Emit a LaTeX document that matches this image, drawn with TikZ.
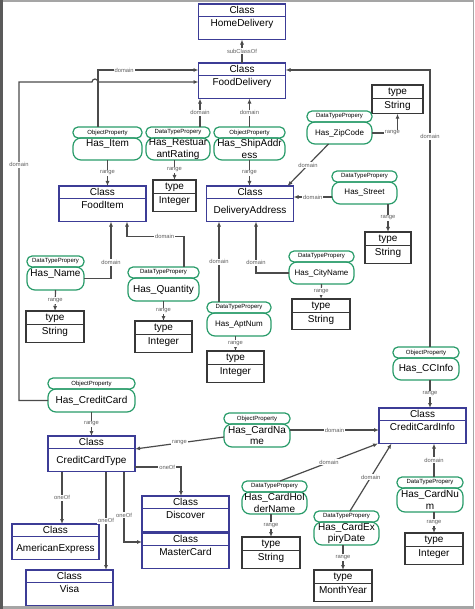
\documentclass[tikz,border=0pt]{standalone}
\usepackage{fontspec}
\setmainfont{Liberation Sans}
\usetikzlibrary{shapes.multipart,arrows.meta,positioning}
\definecolor{classblue}{RGB}{60,60,150}
\definecolor{propgreen}{RGB}{40,155,105}
\definecolor{typegray}{RGB}{55,55,55}
\definecolor{linegray}{RGB}{75,75,75}
\definecolor{lblgray}{RGB}{95,95,95}
\definecolor{framegray}{RGB}{165,165,165}
\definecolor{framedark}{RGB}{90,90,90}
% body part of a box: text near the top, or centred
\newcommand{\clstop}[1]{\rule[-10.4pt]{0pt}{18pt}#1}
\newcommand{\clsmid}[1]{\rule[-5.4pt]{0pt}{18pt}#1}
\newcommand{\typbody}[2][5.4pt]{\rule[-#1]{0pt}{\dimexpr7.6pt+#1\relax}#2}
\begin{document}
\begin{tikzpicture}[x=1pt,y=-1pt]
	\tikzstyle{cls}=[rectangle split,rectangle split parts=2,draw=classblue,line width=1.1pt,text width=87pt,inner xsep=0pt,inner ysep=2pt,align=center,anchor=north,outer sep=0pt,font=\fontsize{10}{11}\selectfont]
	\tikzstyle{typ}=[rectangle split,rectangle split parts=2,draw=typegray,line width=1.1pt,text width=58pt,inner xsep=0pt,inner ysep=2pt,align=center,anchor=north,outer sep=0pt,font=\fontsize{10}{11}\selectfont]
	\tikzstyle{prop}=[rectangle,rounded corners=8pt,draw=propgreen,line width=1.2pt,minimum height=22pt,inner sep=0pt,outer sep=0pt,align=center,font=\fontsize{10}{11.5}\selectfont]
	\tikzstyle{small}=[font=\fontsize{8}{9}\selectfont]
	\tikzstyle{kind}=[rectangle,rounded corners=5pt,draw=propgreen,line width=1.2pt,minimum height=11pt,inner sep=0pt,outer sep=0pt,font=\fontsize{6}{7}\selectfont]
	\tikzstyle{edge}=[-{Latex[length=5pt,width=4pt]},line width=1.2pt,draw=linegray]
	\tikzstyle{lbl}=[fill=white,inner sep=1pt,text=lblgray,font=\fontsize{5.8}{6}\selectfont]

	\useasboundingbox (0,0) rectangle (474,609);
	\fill[framegray] (0,0) rectangle (474,2);
	\fill[framegray] (0,606) rectangle (474,609);
	\fill[framedark] (0,0) rectangle (3,609);
	\draw[framegray,line width=1pt] (473,0) -- (473,609);

	% classes
	\node [cls] (HD)   at (242,4)     {Class\nodepart{two}\clstop{HomeDelivery}};
	\node [cls] (FD)   at (242,63)    {Class\nodepart{two}\clstop{FoodDelivery}};
	\node [cls] (FI)   at (102.5,186) {Class\nodepart{two}\clstop{FoodItem}};
	\node [cls] (DA)   at (250,186)   {Class\nodepart{two}\clsmid{DeliveryAddress}};
	\node [cls] (CCI)  at (422.5,408) {Class\nodepart{two}\clstop{CreditCardInfo}};
	\node [cls] (CCT)  at (91.5,436)  {Class\nodepart{two}\clsmid{CreditCardType}};
	\node [cls] (AE)   at (55.5,524)  {Class\nodepart{two}\clsmid{AmericanExpress}};
	\node [cls] (Visa) at (69.5,570)  {Class\nodepart{two}\clstop{Visa}};
	\node [cls] (Disc) at (185.5,496) {Class\nodepart{two}\clstop{Discover}};
	\node [cls] (MC)   at (185.5,533) {Class\nodepart{two}\clstop{MasterCard}};

	% datatypes
	\node [typ,text width=51pt] (t-zip) at (397.5,85) {type\nodepart{two}\typbody[2.4pt]{String}};
	\node [typ,text width=43pt] (t-rating) at (174.5,180) {type\nodepart{two}\typbody{Integer}};
	\node [typ,text width=46pt] (t-street) at (388,232)   {type\nodepart{two}\typbody{String}};
	\node [typ] (t-name)   at (55,311)    {type\nodepart{two}\typbody{String}};
	\node [typ,text width=57pt] (t-qty) at (163.5,321) {type\nodepart{two}\typbody{Integer}};
	\node [typ,text width=57pt] (t-apt) at (235.5,351) {type\nodepart{two}\typbody{Integer}};
	\node [typ] (t-city)   at (321,299)   {type\nodepart{two}\typbody[4.4pt]{String}};
	\node [typ] (t-holder) at (271,537)   {type\nodepart{two}\typbody{String}};
	\node [typ] (t-expiry) at (343,570)   {type\nodepart{two}\typbody{MonthYear}};
	\node [typ] (t-num)    at (434,533)   {type\nodepart{two}\typbody{Integer}};

	% properties
	\node [prop,text width=69pt] (item)    at (107.5,149)  {Has\_Item\\\phantom{I}};
	\node [prop,text width=64pt] (rating)  at (178,149)    {Has\_Restuar\\antRating};
	\node [prop,text width=71pt] (ship)    at (249.5,149)  {Has\_ShipAddr\\ess};
	\node [prop,small,text width=65pt] (zip)    at (339.5,133) {Has\_ZipCode};
	\node [prop,small,text width=65pt] (street) at (364.5,193) {Has\_Street};
	\node [prop,text width=57pt,minimum height=23pt] (name) at (55.5,278.5) {Has\_Name\\\phantom{I}};
	\node [prop,text width=71pt,minimum height=23pt] (qty)  at (163.5,289.5) {Has\_Quantity};
	\node [prop,small,text width=64pt,minimum height=23pt] (apt) at (239,324.5) {Has\_AptNum};
	\node [prop,small,text width=65pt] (city)   at (321.5,273) {Has\_CityName};
	\node [prop,text width=66pt] (ccinfo)  at (426,369)    {Has\_CCInfo};
	\node [prop,text width=87pt,minimum height=23pt] (ccard)    at (91.5,400.5) {Has\_CreditCard};
	\node [prop,text width=66pt,minimum height=23pt] (cardname) at (257,435.5)  {Has\_CardNa\\me};
	\node [prop,text width=65pt] (holder)  at (274.5,503)  {Has\_CardHol\\derName};
	\node [prop,text width=65pt,minimum height=23pt] (expiry) at (346.5,533.5) {Has\_CardEx\\piryDate};
	\node [prop,text width=66pt,minimum height=24pt] (cardnum) at (430,500) {Has\_CardNu\\m};

	\node [kind,minimum width=69pt,above=0pt of item]     (item-h)     {ObjectProperty};
	\node [kind,minimum width=64pt,above=0pt of rating]   (rating-h)   {DataTypePropery};
	\node [kind,minimum width=71pt,above=0pt of ship]     (ship-h)     {ObjectProperty};
	\node [kind,minimum width=65pt,above=0pt of zip]      (zip-h)      {DataTypePropery};
	\node [kind,minimum width=65pt,above=0pt of street]   (street-h)   {DataTypePropery};
	\node [kind,minimum width=57pt,above=0pt of name]     (name-h)     {DataTypePropery};
	\node [kind,minimum width=71pt,above=0pt of qty]      (qty-h)      {DataTypePropery};
	\node [kind,minimum width=64pt,above=0pt of apt]      (apt-h)      {DataTypePropery};
	\node [kind,minimum width=65pt,above=0pt of city]     (city-h)     {DataTypePropery};
	\node [kind,minimum width=66pt,above=0pt of ccinfo]   (ccinfo-h)   {ObjectProperty};
	\node [kind,minimum width=87pt,above=0pt of ccard]    (ccard-h)    {ObjectProperty};
	\node [kind,minimum width=66pt,above=0pt of cardname] (cardname-h) {ObjectProperty};
	\node [kind,minimum width=65pt,above=0pt of holder]   (holder-h)   {DataTypePropery};
	\node [kind,minimum width=65pt,above=0pt of expiry]   (expiry-h)   {DataTypePropery};
	\node [kind,minimum width=66pt,above=0pt of cardnum]  (cardnum-h)  {DataTypePropery};

	% helper points
	\coordinate (fd-in1) at ([yshift=-7pt]FD.north west);
	\coordinate (fd-in2) at ([yshift=-19pt]FD.north west);
	\coordinate (hop)    at ([xshift=-12.5pt]item-h.north |- fd-in2);
	\coordinate (rt)     at ([xshift=22pt]rating-h.north);
	\coordinate (st)     at ([yshift=-4pt]street.west);
	\coordinate (qty-bend) at ([xshift=24.5pt,yshift=-15pt]FI.south);
	\coordinate (ap)     at ([xshift=-20pt]apt-h.north);
	\coordinate (ci)     at ([xshift=4pt]ccinfo.south);
	\coordinate (cn)     at ([yshift=5.5pt]cardname.east);
	\coordinate (nm)     at ([xshift=4pt]cardnum-h.north);
	\coordinate (o1)     at ([xshift=-29.5pt]CCT.south);
	\coordinate (o2)     at ([xshift=14.5pt]CCT.south);
	\coordinate (o3)     at ([xshift=32.5pt]CCT.south);

	% food delivery
	\draw[edge] (FD.north) -- node[lbl]{subClassOf} (HD.south);
	\draw[edge] ([xshift=-9.5pt]item-h.north) |- node[lbl,pos=0.63]{domain} (fd-in1);
	\draw[edge] (ccard.west) -- ++(-29,0) |- node[lbl,pos=0.37]{domain} ([xshift=-3pt]hop) arc[start angle=180,end angle=0,radius=3pt] -- (fd-in2);
	\draw[edge] ([xshift=4pt]ccinfo-h.north) |- node[lbl,pos=0.38]{domain} ([yshift=-7pt]FD.north east);
	\draw[edge] (rt) -- node[lbl]{domain} (rt |- FD.south);
	\draw[edge] (ship-h.north) -- node[lbl]{domain} (ship-h.north |- FD.south);
	\draw[edge] (item.south) -- node[lbl]{range} (item.south |- FI.north);
	\draw[edge] (t-rating.north |- rating.south) -- node[lbl]{range} (t-rating.north);
	\draw[edge] (ship.south) -- node[lbl]{range} (ship.south |- DA.north);

	% delivery address
	\draw[edge] ([xshift=-11pt]zip.south) -- node[lbl]{domain} ([xshift=-6pt]DA.north east);
	\draw[edge] (zip.east) -| node[lbl,pos=0.4]{range} (t-zip.south);
	\draw[edge] (st) -- node[lbl]{domain} (st -| DA.east);
	\draw[edge] (t-street.north |- street.south) -- node[lbl]{range} (t-street.north);
	\draw[edge] (ap) -- node[lbl]{domain} (ap |- DA.south);
	\draw[edge] (city.west) -| node[lbl,pos=0.6]{domain} ([xshift=6pt]DA.south);
	\draw[edge] (t-apt.north |- apt.south) -- node[lbl]{range} (t-apt.north);
	\draw[edge] (city.south) -- node[lbl]{range} (t-city.north);

	% food item
	\draw[edge] (name.east) -| node[lbl,pos=0.64]{domain} ([xshift=8.5pt]FI.south);
	\draw[edge] ([xshift=20.5pt]qty-h.north) |- node[lbl,pos=0.67]{domain} (qty-bend) -- (qty-bend |- FI.south);
	\draw[edge] (name.south) -- node[lbl]{range} (t-name.north);
	\draw[edge] (qty.south) -- node[lbl]{range} (t-qty.north);

	% credit card
	\draw[edge] (ci) -- node[lbl]{range} (ci |- CCI.north);
	\draw[edge] (ccard.south) -- node[lbl]{range} (CCT.north);
	\draw[edge] (cn) -- node[lbl]{domain} (cn -| CCI.west);
	\draw[edge] ([yshift=-1.5pt]cardname.west) -- node[lbl]{range} ([yshift=-13pt]CCT.north east);
	\draw[edge] ([xshift=5.5pt]holder-h.north) -- node[lbl]{domain} ([xshift=-1pt]CCI.south west);
	\draw[edge] ([xshift=3.5pt]expiry-h.north) -- node[lbl]{domain} ([xshift=-31pt]CCI.south);
	\draw[edge] (nm) -- node[lbl]{domain} (nm |- CCI.south);
	\draw[edge] (t-holder.north |- holder.south) -- node[lbl]{range} (t-holder.north);
	\draw[edge] (t-expiry.north |- expiry.south) -- node[lbl]{range} (t-expiry.north);
	\draw[edge] (t-num.north |- cardnum.south) -- node[lbl]{range} (t-num.north);

	% card types
	\draw[edge] (o1) -- node[lbl]{oneOf} (o1 |- AE.north);
	\draw[edge] (o2) -- node[lbl]{oneOf} (o2 |- Visa.north);
	\draw[edge] (o3) |- node[lbl,pos=0.31]{oneOf} ([yshift=-9pt]MC.north west);
	\draw[edge] ([yshift=-31pt]CCT.north east) -| node[lbl,pos=0.35]{oneOf} ([xshift=-4.5pt]Disc.north);
\end{tikzpicture}
\end{document}
